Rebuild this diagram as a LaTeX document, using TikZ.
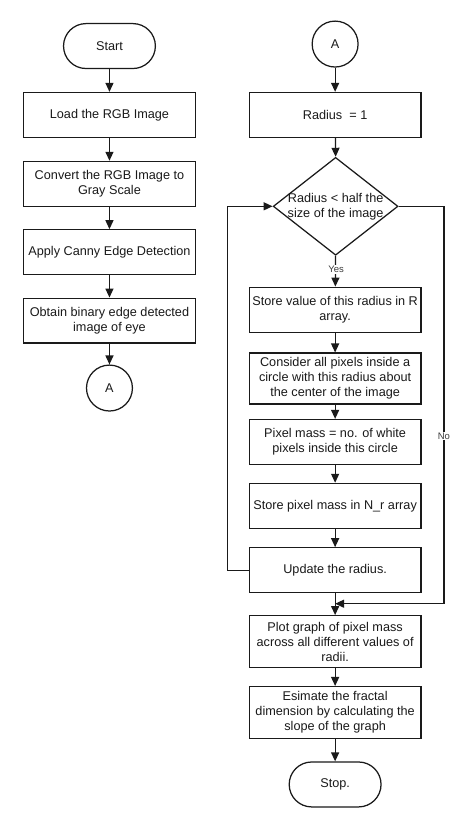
\documentclass[tikz,border=0pt]{standalone}
\usepackage{fontspec}
\setmainfont{Liberation Sans}
\usetikzlibrary{arrows.meta,shapes.geometric}
\newcommand\flowfont{\fontsize{12.7}{15}\selectfont}
\newcommand\smallflow{\fontsize{9.5}{11}\selectfont}
\definecolor{ink}{HTML}{1A1A1A}
\begin{document}
\begin{tikzpicture}[x=1pt,y=-1pt,
  every path/.style={line width=1.25pt, draw=ink},
  box/.style={draw=ink, rectangle, minimum width=172pt, minimum height=45pt, align=center, inner sep=2pt, font=\flowfont, text=ink},
  term/.style={draw=ink, rectangle, rounded corners=22.5pt, minimum width=92pt, minimum height=45pt, inner sep=0pt, font=\flowfont, text=ink},
  conn/.style={draw=ink, circle, minimum size=46pt, inner sep=0pt, font=\flowfont, text=ink},
  arr/.style={-{Triangle[length=9pt,width=8pt]}},
  lbl/.style={fill=white, inner sep=1pt, font=\smallflow, text=ink!85}
]
\useasboundingbox (0,0) rectangle (474,831);
\fill[white] (0,0) rectangle (474,831);

% left column
\node[term] (start) at (109,45.5) {Start};
\node[box] (load) at (109,114.5) {Load the RGB Image};
\node[box] (conv) at (109,183.5) {Convert the RGB Image to\\Gray Scale};
\node[box] (canny) at (109,252) {Apply Canny Edge Detection};
\node[box] (obt) at (109,320.5) {Obtain binary edge detected\\image of eye};
\node[conn] (a1) at (109,388) {A};

\draw[arr] (start) -- (load);
\draw[arr] (load) -- (conv);
\draw[arr] (conv) -- (canny);
\draw[arr] (canny) -- (obt);
\draw[arr] (obt) -- (a1);

% right column
\node[conn] (a2) at (335,43.5) {A};
\node[box] (rad) at (335,114.5) {Radius \ = 1};
\node[draw=ink, diamond, minimum width=125pt, minimum height=98pt, inner sep=0pt] (dec) at (335.5,206) {};
\node[font=\flowfont, text=ink, align=center, inner sep=0pt] (dectext) at (335.5,206) {Radius {\textless} half the\\size of the image};
\node[box] (store) at (335,309.5) {Store value of this radius in R\\array.};
\node[box, minimum height=51pt] (cons) at (335,378.5) {Consider all pixels inside a\\circle with this radius about\\the center of the image};
\node[box] (mass) at (335,442) {Pixel mass = no. of white\\pixels inside this circle};
\node[box] (nr) at (335,506) {Store pixel mass in N\_r array};
\node[box] (upd) at (335,570.5) {Update the radius.};
\node[box, minimum height=52pt] (plot) at (335,642) {Plot graph of pixel mass\\across all different values of\\radii.};
\node[box, minimum height=52pt] (est) at (335,713) {Esimate the fractal\\dimension by calculating the\\slope of the graph};
\node[term] (stop) at (335,785) {Stop.};

\coordinate (loopL) at (227,206);
\coordinate (noR) at (444,604);
\coordinate (join) at (335,604);

\draw[arr] (a2) -- (rad);
\draw[arr] (rad) -- (dec.north);
\draw[arr] (dec.south) -- (store);
\node[lbl] (yes) at (336,269) {Yes};
\draw[arr] (store) -- (cons);
\draw[arr] (cons) -- (mass);
\draw[arr] (mass) -- (nr);
\draw[arr] (nr) -- (upd);
\draw[arr] (upd) -- (plot);
\draw[arr] (plot) -- (est);
\draw[arr] (est) -- (stop);
\draw[arr] (upd.west) -| (loopL) -- (dec.west);
\draw[arr] (dec.east) -| (noR) -- (join);
\node[lbl] (no) at (444,436) {No};
\end{tikzpicture}
\end{document}
